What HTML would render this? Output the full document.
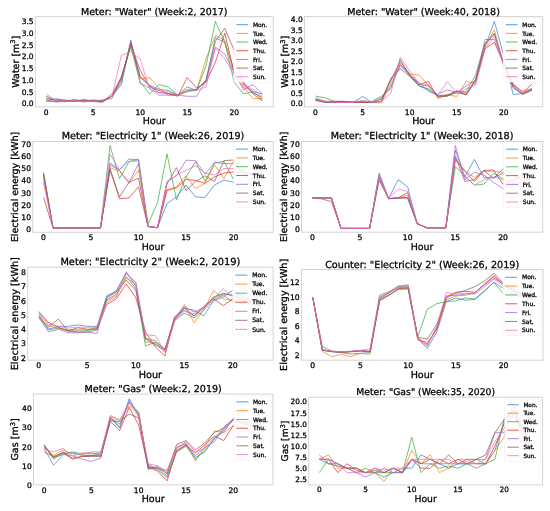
<!DOCTYPE html>
<html lang="en"><head><meta charset="utf-8"><title>Weekly load profiles</title>
<style>
html,body{margin:0;padding:0;background:#fff}
svg{display:block}
text{font-family:"DejaVu Sans","Liberation Sans",sans-serif;fill:#000;stroke:#000;stroke-width:0.28px;paint-order:stroke;text-rendering:geometricPrecision}
.t{font-size:9.52px;text-anchor:middle}
.l{font-size:9.5px;text-anchor:middle}
.k{font-size:7.55px}
.g{font-size:5.9px}
.ax{fill:none;stroke:#d4d4d4;stroke-width:1}
.ln{fill:none;stroke-width:0.72;stroke-linejoin:round;stroke-linecap:butt}
</style></head>
<body>
<svg width="550" height="511" viewBox="0 0 550 511">
<rect width="550" height="511" fill="#fff"/>
<g id="p0">
<clipPath id="c0"><rect x="35.4" y="16.6" width="237.8" height="90.2"/></clipPath>
<g clip-path="url(#c0)">
<polyline class="ln" stroke="#2a84d2" points="46.2,100.96 55.6,98.62 65,100.49 74.4,101.43 83.8,99.79 93.2,101.43 102.6,100.96 112,96.28 121.4,84.58 130.8,41.29 140.2,77.56 149.6,85.28 159,89.26 168.4,90.43 177.8,95.11 187.2,86.92 196.6,90.43 206,79.9 215.4,37.78 224.8,42.46 234.2,70.54 243.6,82.24 253,91.6 262.4,93.94"/>
<polyline class="ln" stroke="#ff7f0e" points="46.2,96.28 55.6,100.96 65,100.96 74.4,99.79 83.8,101.43 93.2,99.56 102.6,101.43 112,96.28 121.4,79.9 130.8,44.8 140.2,78.73 149.6,77.56 159,88.09 168.4,95.11 177.8,95.11 187.2,89.26 196.6,90.43 206,58.84 215.4,35.44 224.8,40.12 234.2,74.05 243.6,86.92 253,98.62 262.4,98.62"/>
<polyline class="ln" stroke="#30b03c" points="46.2,96.28 55.6,100.49 65,101.9 74.4,99.56 83.8,100.96 93.2,101.43 102.6,99.79 112,98.62 121.4,76.39 130.8,47.14 140.2,82.24 149.6,93.94 159,84.58 168.4,86.92 177.8,95.11 187.2,90.43 196.6,90.43 206,65.86 215.4,21.4 224.8,42.46 234.2,82.24 243.6,93.94 253,91.6 262.4,99.79"/>
<polyline class="ln" stroke="#e42c2c" points="46.2,98.62 55.6,99.79 65,100.02 74.4,101.43 83.8,100.49 93.2,100.96 102.6,101.43 112,93.94 121.4,77.56 130.8,43.63 140.2,70.54 149.6,86.92 159,90.43 168.4,93.47 177.8,96.28 187.2,77.56 196.6,88.09 206,82.24 215.4,62.12 224.8,33.1 234.2,72.88 243.6,83.41 253,93.94 262.4,100.96"/>
<polyline class="ln" stroke="#9c66d4" points="46.2,99.79 55.6,101.43 65,100.96 74.4,101.43 83.8,99.56 93.2,100.96 102.6,100.96 112,96.28 121.4,82.24 130.8,40.12 140.2,83.41 149.6,88.09 159,95.11 168.4,95.11 177.8,95.11 187.2,96.28 196.6,96.28 206,81.07 215.4,47.14 224.8,54.16 234.2,72.88 243.6,89.96 253,84.58 262.4,93.94"/>
<polyline class="ln" stroke="#94584c" points="46.2,100.96 55.6,101.9 65,101.43 74.4,100.96 83.8,101.9 93.2,100.96 102.6,101.43 112,96.28 121.4,78.73 130.8,43.63 140.2,76.39 149.6,85.75 159,92.77 168.4,93.47 177.8,95.11 187.2,91.6 196.6,89.26 206,81.07 215.4,41.29 224.8,28.42 234.2,50.65 243.6,85.28 253,92.77 262.4,97.45"/>
<polyline class="ln" stroke="#f06ccb" points="46.2,93.94 55.6,100.49 65,101.43 74.4,100.96 83.8,101.43 93.2,101.43 102.6,102.6 112,96.28 121.4,55.33 130.8,51.82 140.2,58.84 149.6,89.26 159,92.77 168.4,91.6 177.8,95.11 187.2,91.6 196.6,90.43 206,86.92 215.4,48.31 224.8,58.84 234.2,75.22 243.6,88.09 253,89.26 262.4,96.28"/>
</g>
<rect x="233.6" y="17.6" width="37.2" height="64.6" rx="1" fill="#fff" fill-opacity="0.86" stroke="#ccc" stroke-opacity="0.5" stroke-width="0.4"/>
<line x1="236.4" y1="24.7" x2="248.2" y2="24.7" stroke="#2a84d2" stroke-width="0.8"/><text class="g" style="font-size:5.9px" x="252.92" y="26.82">Mon.</text>
<line x1="236.4" y1="33.38" x2="248.2" y2="33.38" stroke="#ff7f0e" stroke-width="0.8"/><text class="g" style="font-size:5.9px" x="252.92" y="35.5">Tue.</text>
<line x1="236.4" y1="42.06" x2="248.2" y2="42.06" stroke="#30b03c" stroke-width="0.8"/><text class="g" style="font-size:5.9px" x="252.92" y="44.18">Wed.</text>
<line x1="236.4" y1="50.74" x2="248.2" y2="50.74" stroke="#e42c2c" stroke-width="0.8"/><text class="g" style="font-size:5.9px" x="252.92" y="52.86">Thu.</text>
<line x1="236.4" y1="59.42" x2="248.2" y2="59.42" stroke="#9c66d4" stroke-width="0.8"/><text class="g" style="font-size:5.9px" x="252.92" y="61.54">Fri.</text>
<line x1="236.4" y1="68.1" x2="248.2" y2="68.1" stroke="#94584c" stroke-width="0.8"/><text class="g" style="font-size:5.9px" x="252.92" y="70.22">Sat.</text>
<line x1="236.4" y1="76.78" x2="248.2" y2="76.78" stroke="#f06ccb" stroke-width="0.8"/><text class="g" style="font-size:5.9px" x="252.92" y="78.9">Sun.</text>
<rect class="ax" x="35.4" y="16.6" width="237.8" height="90.2"/>
<text class="k" style="font-size:7.55px" text-anchor="end" x="33.65" y="106.21">0.0</text>
<text class="k" style="font-size:7.55px" text-anchor="end" x="33.65" y="94.51">0.5</text>
<text class="k" style="font-size:7.55px" text-anchor="end" x="33.65" y="82.81">1.0</text>
<text class="k" style="font-size:7.55px" text-anchor="end" x="33.65" y="71.11">1.5</text>
<text class="k" style="font-size:7.55px" text-anchor="end" x="33.65" y="59.41">2.0</text>
<text class="k" style="font-size:7.55px" text-anchor="end" x="33.65" y="47.71">2.5</text>
<text class="k" style="font-size:7.55px" text-anchor="end" x="33.65" y="36.01">3.0</text>
<text class="k" style="font-size:7.55px" text-anchor="end" x="33.65" y="24.31">3.5</text>
<text class="k" style="font-size:7.55px" text-anchor="middle" x="46.2" y="114.5">0</text>
<text class="k" style="font-size:7.55px" text-anchor="middle" x="93.2" y="114.5">5</text>
<text class="k" style="font-size:7.55px" text-anchor="middle" x="140.2" y="114.5">10</text>
<text class="k" style="font-size:7.55px" text-anchor="middle" x="187.2" y="114.5">15</text>
<text class="k" style="font-size:7.55px" text-anchor="middle" x="234.2" y="114.5">20</text>
<text class="l" style="font-size:9.5px" x="154.3" y="124">Hour</text>
<text class="l" style="font-size:9.5px" transform="translate(18.5,61.7) rotate(-90)">Water [m<tspan dy="-3.40" style="font-size:6.65px">3</tspan><tspan dy="3.40">]</tspan></text>
<text class="t" style="font-size:9.52px" x="154.3" y="14.8">Meter: &quot;Water&quot; (Week:2, 2017)</text>
</g>
<g id="p1">
<clipPath id="c1"><rect x="304.5" y="16.6" width="238.2" height="90.2"/></clipPath>
<g clip-path="url(#c1)">
<polyline class="ln" stroke="#2a84d2" points="315.5,100.55 324.92,102.45 334.33,102.45 343.75,101.39 353.16,102.45 362.57,96.55 371.99,102.45 381.4,97.82 390.82,86.66 400.24,65.61 409.65,75.08 419.06,86.03 428.48,89.82 437.89,96.13 447.31,95.08 456.73,92.97 466.14,94.24 475.55,82.45 484.97,46.66 494.38,21.41 503.8,55.72 513.21,94.66 522.63,93.4 532.04,89.82"/>
<polyline class="ln" stroke="#ff7f0e" points="315.5,99.29 324.92,101.39 334.33,101.39 343.75,102.45 353.16,102.45 362.57,102.45 371.99,102.45 381.4,102.87 390.82,83.5 400.24,64.56 409.65,74.03 419.06,75.08 428.48,85.19 437.89,96.13 447.31,94.66 456.73,96.55 466.14,81.4 475.55,83.29 484.97,47.51 494.38,29.83 503.8,64.56 513.21,85.4 522.63,90.87 532.04,88.77"/>
<polyline class="ln" stroke="#30b03c" points="315.5,96.13 324.92,97.82 334.33,101.39 343.75,101.39 353.16,102.45 362.57,101.39 371.99,101.39 381.4,96.13 390.82,88.77 400.24,59.29 409.65,76.13 419.06,86.03 428.48,88.77 437.89,96.13 447.31,96.13 456.73,91.5 466.14,91.5 475.55,75.08 484.97,43.09 494.38,33.19 503.8,65.61 513.21,86.24 522.63,93.82 532.04,89.82"/>
<polyline class="ln" stroke="#e42c2c" points="315.5,99.71 324.92,101.39 334.33,101.39 343.75,101.39 353.16,102.45 362.57,102.45 371.99,102.45 381.4,99.29 390.82,80.34 400.24,61.4 409.65,74.03 419.06,84.56 428.48,81.4 437.89,98.24 447.31,95.08 456.73,90.87 466.14,95.08 475.55,79.71 484.97,48.77 494.38,42.45 503.8,63.51 513.21,84.56 522.63,92.55 532.04,84.13"/>
<polyline class="ln" stroke="#9c66d4" points="315.5,97.82 324.92,101.39 334.33,102.45 343.75,102.45 353.16,101.39 362.57,101.39 371.99,102.45 381.4,101.39 390.82,80.34 400.24,63.51 409.65,75.08 419.06,82.45 428.48,91.5 437.89,94.24 447.31,89.82 456.73,92.55 466.14,86.03 475.55,80.56 484.97,39.51 494.38,39.51 503.8,64.56 513.21,88.13 522.63,93.4 532.04,88.77"/>
<polyline class="ln" stroke="#94584c" points="315.5,99.71 324.92,102.45 334.33,102.45 343.75,102.45 353.16,102.45 362.57,102.45 371.99,102.45 381.4,101.39 390.82,78.24 400.24,68.77 409.65,76.13 419.06,84.56 428.48,86.03 437.89,96.13 447.31,96.13 456.73,90.87 466.14,93.4 475.55,79.71 484.97,44.56 494.38,34.03 503.8,64.56 513.21,87.08 522.63,94.66 532.04,90.24"/>
<polyline class="ln" stroke="#f06ccb" points="315.5,98.87 324.92,101.39 334.33,102.45 343.75,102.45 353.16,102.45 362.57,100.34 371.99,102.45 381.4,101.39 390.82,92.97 400.24,57.19 409.65,70.87 419.06,83.5 428.48,84.56 437.89,95.08 447.31,81.82 456.73,92.97 466.14,88.77 475.55,85.19 484.97,49.4 494.38,36.14 503.8,63.51 513.21,83.5 522.63,92.55 532.04,88.13"/>
</g>
<rect x="503" y="17.6" width="37.2" height="64.6" rx="1" fill="#fff" fill-opacity="0.86" stroke="#ccc" stroke-opacity="0.5" stroke-width="0.4"/>
<line x1="505.8" y1="24.7" x2="517.6" y2="24.7" stroke="#2a84d2" stroke-width="0.8"/><text class="g" style="font-size:5.9px" x="522.32" y="26.82">Mon.</text>
<line x1="505.8" y1="33.38" x2="517.6" y2="33.38" stroke="#ff7f0e" stroke-width="0.8"/><text class="g" style="font-size:5.9px" x="522.32" y="35.5">Tue.</text>
<line x1="505.8" y1="42.06" x2="517.6" y2="42.06" stroke="#30b03c" stroke-width="0.8"/><text class="g" style="font-size:5.9px" x="522.32" y="44.18">Wed.</text>
<line x1="505.8" y1="50.74" x2="517.6" y2="50.74" stroke="#e42c2c" stroke-width="0.8"/><text class="g" style="font-size:5.9px" x="522.32" y="52.86">Thu.</text>
<line x1="505.8" y1="59.42" x2="517.6" y2="59.42" stroke="#9c66d4" stroke-width="0.8"/><text class="g" style="font-size:5.9px" x="522.32" y="61.54">Fri.</text>
<line x1="505.8" y1="68.1" x2="517.6" y2="68.1" stroke="#94584c" stroke-width="0.8"/><text class="g" style="font-size:5.9px" x="522.32" y="70.22">Sat.</text>
<line x1="505.8" y1="76.78" x2="517.6" y2="76.78" stroke="#f06ccb" stroke-width="0.8"/><text class="g" style="font-size:5.9px" x="522.32" y="78.9">Sun.</text>
<rect class="ax" x="304.5" y="16.6" width="238.2" height="90.2"/>
<text class="k" style="font-size:7.55px" text-anchor="end" x="302.75" y="106.41">0.0</text>
<text class="k" style="font-size:7.55px" text-anchor="end" x="302.75" y="95.88">0.5</text>
<text class="k" style="font-size:7.55px" text-anchor="end" x="302.75" y="85.36">1.0</text>
<text class="k" style="font-size:7.55px" text-anchor="end" x="302.75" y="74.83">1.5</text>
<text class="k" style="font-size:7.55px" text-anchor="end" x="302.75" y="64.31">2.0</text>
<text class="k" style="font-size:7.55px" text-anchor="end" x="302.75" y="53.78">2.5</text>
<text class="k" style="font-size:7.55px" text-anchor="end" x="302.75" y="43.26">3.0</text>
<text class="k" style="font-size:7.55px" text-anchor="end" x="302.75" y="32.73">3.5</text>
<text class="k" style="font-size:7.55px" text-anchor="end" x="302.75" y="22.21">4.0</text>
<text class="k" style="font-size:7.55px" text-anchor="middle" x="315.5" y="114.5">0</text>
<text class="k" style="font-size:7.55px" text-anchor="middle" x="362.57" y="114.5">5</text>
<text class="k" style="font-size:7.55px" text-anchor="middle" x="409.65" y="114.5">10</text>
<text class="k" style="font-size:7.55px" text-anchor="middle" x="456.73" y="114.5">15</text>
<text class="k" style="font-size:7.55px" text-anchor="middle" x="503.8" y="114.5">20</text>
<text class="l" style="font-size:9.5px" x="423.6" y="124">Hour</text>
<text class="l" style="font-size:9.5px" transform="translate(288.1,61.7) rotate(-90)">Water [m<tspan dy="-3.40" style="font-size:6.65px">3</tspan><tspan dy="3.40">]</tspan></text>
<text class="t" style="font-size:9.52px" x="423.6" y="14.8">Meter: &quot;Water&quot; (Week:40, 2018)</text>
</g>
<g id="p2">
<clipPath id="c2"><rect x="32.8" y="141.5" width="240.4" height="90.8"/></clipPath>
<g clip-path="url(#c2)">
<polyline class="ln" stroke="#2a84d2" points="43.5,173.31 53,227.93 62.5,227.93 72,227.93 81.5,227.93 91,227.93 100.5,227.93 110,163.03 119.5,169.68 129,158.92 138.5,160.01 148,226.48 157.5,227.69 167,203.52 176.5,196.99 186,185.03 195.5,196.99 205,197.48 214.5,185.03 224,180.07 233.5,182.25 243,190.23 252.5,178.14 262,180.56"/>
<polyline class="ln" stroke="#ff7f0e" points="43.5,172.1 53,227.93 62.5,227.93 72,227.93 81.5,227.93 91,227.93 100.5,227.93 110,167.63 119.5,171.25 129,183.22 138.5,170.28 148,226.48 157.5,227.69 167,189.62 176.5,186.84 186,175.84 195.5,188.78 205,183.22 214.5,164.85 224,178.62 233.5,161.22 243,174.51 252.5,180.56 262,178.14"/>
<polyline class="ln" stroke="#30b03c" points="43.5,174.51 53,227.93 62.5,227.93 72,227.93 81.5,227.93 91,227.93 100.5,227.93 110,145.51 119.5,178.62 129,161.7 138.5,159.29 148,224.07 157.5,202.55 167,153.97 176.5,199.89 186,176.93 195.5,161.7 205,181.4 214.5,163.03 224,161.22 233.5,179.59 243,168.47 252.5,186.6 262,174.51"/>
<polyline class="ln" stroke="#e42c2c" points="43.5,197.48 53,227.93 62.5,227.93 72,227.93 81.5,227.93 91,227.93 100.5,227.93 110,169.68 119.5,198.69 129,197.96 138.5,186.84 148,226.48 157.5,227.69 167,190.59 176.5,187.81 186,179.47 195.5,180.56 205,183.22 214.5,176.93 224,173.06 233.5,172.1 243,172.1 252.5,174.51 262,175.72"/>
<polyline class="ln" stroke="#9c66d4" points="43.5,178.14 53,227.93 62.5,227.93 72,227.93 81.5,227.93 91,227.93 100.5,227.93 110,164.85 119.5,170.28 129,182.25 138.5,163.88 148,226.48 157.5,227.69 167,181.4 176.5,175.84 186,160.25 195.5,160.62 205,174.03 214.5,162.43 224,163.64 233.5,163.64 243,170.89 252.5,174.51 262,172.1"/>
<polyline class="ln" stroke="#94584c" points="43.5,173.31 53,227.93 62.5,227.93 72,227.93 81.5,227.93 91,227.93 100.5,227.93 110,168.47 119.5,196.99 129,182.25 138.5,178.14 148,226.48 157.5,227.69 167,184.18 176.5,167.63 186,190.59 195.5,181.4 205,175.84 214.5,181.4 224,160.62 233.5,160.01 243,174.51 252.5,168.47 262,170.89"/>
<polyline class="ln" stroke="#f06ccb" points="43.5,182.97 53,227.93 62.5,227.93 72,227.93 81.5,227.93 91,227.93 100.5,227.93 110,153.97 119.5,169.68 129,161.22 138.5,161.22 148,226.48 157.5,227.69 167,182.25 176.5,175 186,170.28 195.5,165.69 205,173.06 214.5,175 224,168.47 233.5,168.47 243,170.89 252.5,174.51 262,176.93"/>
</g>
<rect x="233.3" y="142" width="37.4" height="65.2" rx="1" fill="#fff" fill-opacity="0.86" stroke="#ccc" stroke-opacity="0.5" stroke-width="0.4"/>
<line x1="236.1" y1="149.1" x2="248.02" y2="149.1" stroke="#2a84d2" stroke-width="0.8"/><text class="g" style="font-size:5.96px" x="252.79" y="151.25">Mon.</text>
<line x1="236.1" y1="157.9" x2="248.02" y2="157.9" stroke="#ff7f0e" stroke-width="0.8"/><text class="g" style="font-size:5.96px" x="252.79" y="160.05">Tue.</text>
<line x1="236.1" y1="166.7" x2="248.02" y2="166.7" stroke="#30b03c" stroke-width="0.8"/><text class="g" style="font-size:5.96px" x="252.79" y="168.85">Wed.</text>
<line x1="236.1" y1="175.5" x2="248.02" y2="175.5" stroke="#e42c2c" stroke-width="0.8"/><text class="g" style="font-size:5.96px" x="252.79" y="177.65">Thu.</text>
<line x1="236.1" y1="184.3" x2="248.02" y2="184.3" stroke="#9c66d4" stroke-width="0.8"/><text class="g" style="font-size:5.96px" x="252.79" y="186.45">Fri.</text>
<line x1="236.1" y1="193.1" x2="248.02" y2="193.1" stroke="#94584c" stroke-width="0.8"/><text class="g" style="font-size:5.96px" x="252.79" y="195.25">Sat.</text>
<line x1="236.1" y1="201.9" x2="248.02" y2="201.9" stroke="#f06ccb" stroke-width="0.8"/><text class="g" style="font-size:5.96px" x="252.79" y="204.05">Sun.</text>
<rect class="ax" x="32.8" y="141.5" width="240.4" height="90.8"/>
<text class="k" style="font-size:7.63px" text-anchor="end" x="31.05" y="231.83">0</text>
<text class="k" style="font-size:7.63px" text-anchor="end" x="31.05" y="219.75">10</text>
<text class="k" style="font-size:7.63px" text-anchor="end" x="31.05" y="207.66">20</text>
<text class="k" style="font-size:7.63px" text-anchor="end" x="31.05" y="195.58">30</text>
<text class="k" style="font-size:7.63px" text-anchor="end" x="31.05" y="183.49">40</text>
<text class="k" style="font-size:7.63px" text-anchor="end" x="31.05" y="171.4">50</text>
<text class="k" style="font-size:7.63px" text-anchor="end" x="31.05" y="159.32">60</text>
<text class="k" style="font-size:7.63px" text-anchor="end" x="31.05" y="147.23">70</text>
<text class="k" style="font-size:7.63px" text-anchor="middle" x="43.5" y="240.08">0</text>
<text class="k" style="font-size:7.63px" text-anchor="middle" x="91" y="240.08">5</text>
<text class="k" style="font-size:7.63px" text-anchor="middle" x="138.5" y="240.08">10</text>
<text class="k" style="font-size:7.63px" text-anchor="middle" x="186" y="240.08">15</text>
<text class="k" style="font-size:7.63px" text-anchor="middle" x="233.5" y="240.08">20</text>
<text class="l" style="font-size:9.45px" x="153" y="249.67">Hour</text>
<text class="l" style="font-size:9.45px" transform="translate(17.9,186.9) rotate(-90)">Electrical energy [kWh]</text>
<text class="t" style="font-size:9.62px" x="153" y="138.9">Meter: &quot;Electricity 1&quot; (Week:26, 2019)</text>
</g>
<g id="p3">
<clipPath id="c3"><rect x="301.5" y="141.5" width="241.2" height="90.7"/></clipPath>
<g clip-path="url(#c3)">
<polyline class="ln" stroke="#2a84d2" points="312.4,197.95 321.93,197.95 331.46,197.95 340.99,228.39 350.52,228.39 360.05,228.39 369.58,228.39 379.11,173.21 388.64,198.68 398.17,179.64 407.7,186.91 417.23,223.66 426.76,227.79 436.29,227.79 445.82,227.79 455.35,150.16 464.88,176.85 474.41,159.38 483.94,177.7 493.47,177.7 503,173.21 512.53,180.49 522.06,190.19 531.59,198.68"/>
<polyline class="ln" stroke="#ff7f0e" points="312.4,197.95 321.93,197.95 331.46,197.95 340.99,228.39 350.52,228.39 360.05,228.39 369.58,228.39 379.11,176.85 388.64,198.68 398.17,197.95 407.7,195.16 417.23,223.66 426.76,227.79 436.29,227.79 445.82,227.79 455.35,160.23 464.88,170.42 474.41,177.7 483.94,171.27 493.47,171.27 503,172.24 512.53,174.42 522.06,178.06 531.59,180.49"/>
<polyline class="ln" stroke="#30b03c" points="312.4,197.95 321.93,197.95 331.46,197.95 340.99,228.39 350.52,228.39 360.05,228.39 369.58,228.39 379.11,176.85 388.64,198.68 398.17,197.95 407.7,197.47 417.23,223.66 426.76,227.79 436.29,227.79 445.82,227.79 455.35,166.66 464.88,175.88 474.41,185.09 483.94,184.12 493.47,173.21 503,178.67 512.53,182.91 522.06,174.42 531.59,178.06"/>
<polyline class="ln" stroke="#e42c2c" points="312.4,197.95 321.93,197.95 331.46,197.95 340.99,228.39 350.52,228.39 360.05,228.39 369.58,228.39 379.11,178.06 388.64,198.68 398.17,197.95 407.7,192.61 417.23,223.66 426.76,227.79 436.29,227.79 445.82,227.79 455.35,158.65 464.88,171.27 474.41,181.46 483.94,170.42 493.47,170.06 503,184.12 512.53,180.49 522.06,175.63 531.59,178.06"/>
<polyline class="ln" stroke="#9c66d4" points="312.4,197.95 321.93,197.95 331.46,197.95 340.99,228.39 350.52,228.39 360.05,228.39 369.58,228.39 379.11,174.42 388.64,198.68 398.17,197.95 407.7,197.95 417.23,223.66 426.76,227.79 436.29,227.79 445.82,227.79 455.35,145.56 464.88,179.52 474.41,172.24 483.94,175.03 493.47,182.31 503,188.73 512.53,185.34 522.06,182.91 531.59,186.55"/>
<polyline class="ln" stroke="#94584c" points="312.4,197.95 321.93,198.92 331.46,201.59 340.99,228.39 350.52,228.39 360.05,228.39 369.58,228.39 379.11,180.49 388.64,198.68 398.17,197.95 407.7,197.95 417.23,223.66 426.76,227.79 436.29,227.79 445.82,227.79 455.35,156.59 464.88,181.46 474.41,179.52 483.94,170.42 493.47,178.67 503,168.6 512.53,174.42 522.06,180.49 531.59,182.91"/>
<polyline class="ln" stroke="#f06ccb" points="312.4,197.95 321.93,197.95 331.46,197.95 340.99,228.39 350.52,228.39 360.05,228.39 369.58,228.39 379.11,176.85 388.64,198.68 398.17,188.98 407.7,191.4 417.23,223.66 426.76,227.79 436.29,227.79 445.82,227.79 455.35,155.62 464.88,176.85 474.41,185.09 483.94,179.52 493.47,176.85 503,179.64 512.53,182.91 522.06,186.55 531.59,180.49"/>
</g>
<rect x="503.3" y="142.1" width="37.4" height="65.2" rx="1" fill="#fff" fill-opacity="0.86" stroke="#ccc" stroke-opacity="0.5" stroke-width="0.4"/>
<line x1="506.1" y1="149.2" x2="518.02" y2="149.2" stroke="#2a84d2" stroke-width="0.8"/><text class="g" style="font-size:5.96px" x="522.79" y="151.35">Mon.</text>
<line x1="506.1" y1="158" x2="518.02" y2="158" stroke="#ff7f0e" stroke-width="0.8"/><text class="g" style="font-size:5.96px" x="522.79" y="160.15">Tue.</text>
<line x1="506.1" y1="166.8" x2="518.02" y2="166.8" stroke="#30b03c" stroke-width="0.8"/><text class="g" style="font-size:5.96px" x="522.79" y="168.95">Wed.</text>
<line x1="506.1" y1="175.6" x2="518.02" y2="175.6" stroke="#e42c2c" stroke-width="0.8"/><text class="g" style="font-size:5.96px" x="522.79" y="177.75">Thu.</text>
<line x1="506.1" y1="184.4" x2="518.02" y2="184.4" stroke="#9c66d4" stroke-width="0.8"/><text class="g" style="font-size:5.96px" x="522.79" y="186.55">Fri.</text>
<line x1="506.1" y1="193.2" x2="518.02" y2="193.2" stroke="#94584c" stroke-width="0.8"/><text class="g" style="font-size:5.96px" x="522.79" y="195.35">Sat.</text>
<line x1="506.1" y1="202" x2="518.02" y2="202" stroke="#f06ccb" stroke-width="0.8"/><text class="g" style="font-size:5.96px" x="522.79" y="204.15">Sun.</text>
<rect class="ax" x="301.5" y="141.5" width="241.2" height="90.7"/>
<text class="k" style="font-size:7.63px" text-anchor="end" x="299.75" y="231.93">0</text>
<text class="k" style="font-size:7.63px" text-anchor="end" x="299.75" y="219.8">10</text>
<text class="k" style="font-size:7.63px" text-anchor="end" x="299.75" y="207.68">20</text>
<text class="k" style="font-size:7.63px" text-anchor="end" x="299.75" y="195.55">30</text>
<text class="k" style="font-size:7.63px" text-anchor="end" x="299.75" y="183.42">40</text>
<text class="k" style="font-size:7.63px" text-anchor="end" x="299.75" y="171.29">50</text>
<text class="k" style="font-size:7.63px" text-anchor="end" x="299.75" y="159.16">60</text>
<text class="k" style="font-size:7.63px" text-anchor="end" x="299.75" y="147.03">70</text>
<text class="k" style="font-size:7.63px" text-anchor="middle" x="312.4" y="239.98">0</text>
<text class="k" style="font-size:7.63px" text-anchor="middle" x="360.05" y="239.98">5</text>
<text class="k" style="font-size:7.63px" text-anchor="middle" x="407.7" y="239.98">10</text>
<text class="k" style="font-size:7.63px" text-anchor="middle" x="455.35" y="239.98">15</text>
<text class="k" style="font-size:7.63px" text-anchor="middle" x="503" y="239.98">20</text>
<text class="l" style="font-size:9.45px" x="422.1" y="249.57">Hour</text>
<text class="l" style="font-size:9.45px" transform="translate(287,186.85) rotate(-90)">Electrical energy [kWh]</text>
<text class="t" style="font-size:9.62px" x="422.1" y="139">Meter: &quot;Electricity 1&quot; (Week:30, 2018)</text>
</g>
<g id="p4">
<clipPath id="c4"><rect x="27.7" y="267.2" width="245.4" height="93"/></clipPath>
<g clip-path="url(#c4)">
<polyline class="ln" stroke="#2a84d2" points="38.85,316.8 48.55,329.2 58.25,326.35 67.95,326.35 77.65,324.93 87.35,326.35 97.05,326.35 106.75,295.71 116.45,291.44 126.15,273.62 135.85,282.18 145.55,338.46 155.25,344.16 164.95,349.72 174.65,319.22 184.35,308.39 194.05,310.25 203.75,315.81 213.45,300.7 223.15,297 232.85,290.01 242.55,296.43 252.25,300.7 261.95,304.97"/>
<polyline class="ln" stroke="#ff7f0e" points="38.85,313.1 48.55,325.78 58.25,328.06 67.95,329.91 77.65,329.63 87.35,329.91 97.05,327.2 106.75,300.7 116.45,295.71 126.15,278.19 135.85,283.88 145.55,342.17 155.25,343.16 164.95,352.57 174.65,320.65 184.35,304.55 194.05,322.79 203.75,310.25 213.45,290.44 223.15,298.85 232.85,300.7 242.55,303.55 252.25,299.27 261.95,306.4"/>
<polyline class="ln" stroke="#30b03c" points="38.85,314.52 48.55,329.91 58.25,328.06 67.95,330.91 77.65,330.91 87.35,330.62 97.05,328.06 106.75,299.85 116.45,294.14 126.15,276.47 135.85,288.59 145.55,346.01 155.25,342.17 164.95,348.87 174.65,320.65 184.35,313.1 194.05,317.8 203.75,310.25 213.45,299.85 223.15,295.14 232.85,301.7 242.55,297.85 252.25,302.12 261.95,307.82"/>
<polyline class="ln" stroke="#e42c2c" points="38.85,311.67 48.55,322.5 58.25,327.2 67.95,330.91 77.65,327.77 87.35,329.2 97.05,329.2 106.75,304.55 116.45,298.85 126.15,283.88 135.85,297.85 145.55,332.05 155.25,346.87 164.95,355.99 174.65,317.8 184.35,310.25 194.05,315.81 203.75,306.4 213.45,298.85 223.15,305.54 232.85,298.85 242.55,300.7 252.25,304.97 261.95,310.68"/>
<polyline class="ln" stroke="#9c66d4" points="38.85,317.8 48.55,331.91 58.25,329.2 67.95,332.76 77.65,332.76 87.35,332.05 97.05,333.47 106.75,297 116.45,290.44 126.15,272.2 135.85,286.45 145.55,339.18 155.25,344.88 164.95,350.57 174.65,319.22 184.35,306.4 194.05,312.1 203.75,307.4 213.45,297.99 223.15,294.14 232.85,295 242.55,296.43 252.25,300.7 261.95,303.55"/>
<polyline class="ln" stroke="#94584c" points="38.85,316.8 48.55,327.2 58.25,319.08 67.95,330.91 77.65,332.05 87.35,332.05 97.05,329.91 106.75,297.85 116.45,292.15 126.15,280.04 135.85,290.44 145.55,338.46 155.25,340.6 164.95,349.72 174.65,316.8 184.35,307.82 194.05,315.81 203.75,308.39 213.45,297 223.15,293.29 232.85,295.71 242.55,299.27 252.25,303.55 261.95,306.4"/>
<polyline class="ln" stroke="#f06ccb" points="38.85,311.67 48.55,324.36 58.25,326.35 67.95,328.06 77.65,327.2 87.35,327.2 97.05,327.2 106.75,302.69 116.45,297 126.15,271.63 135.85,285.02 145.55,334.9 155.25,335.61 164.95,351.57 174.65,320.65 184.35,311.1 194.05,313.95 203.75,308.39 213.45,298.85 223.15,288.59 232.85,297 242.55,295 252.25,299.27 261.95,302.12"/>
</g>
<rect x="232.4" y="269.9" width="38.2" height="64.8" rx="1" fill="#fff" fill-opacity="0.86" stroke="#ccc" stroke-opacity="0.5" stroke-width="0.4"/>
<line x1="235.2" y1="275.1" x2="247.35" y2="275.1" stroke="#2a84d2" stroke-width="0.8"/><text class="g" style="font-size:6.08px" x="252.22" y="277.29">Mon.</text>
<line x1="235.2" y1="284.14" x2="247.35" y2="284.14" stroke="#ff7f0e" stroke-width="0.8"/><text class="g" style="font-size:6.08px" x="252.22" y="286.33">Tue.</text>
<line x1="235.2" y1="293.18" x2="247.35" y2="293.18" stroke="#30b03c" stroke-width="0.8"/><text class="g" style="font-size:6.08px" x="252.22" y="295.37">Wed.</text>
<line x1="235.2" y1="302.22" x2="247.35" y2="302.22" stroke="#e42c2c" stroke-width="0.8"/><text class="g" style="font-size:6.08px" x="252.22" y="304.41">Thu.</text>
<line x1="235.2" y1="311.26" x2="247.35" y2="311.26" stroke="#9c66d4" stroke-width="0.8"/><text class="g" style="font-size:6.08px" x="252.22" y="313.45">Fri.</text>
<line x1="235.2" y1="320.3" x2="247.35" y2="320.3" stroke="#94584c" stroke-width="0.8"/><text class="g" style="font-size:6.08px" x="252.22" y="322.49">Sat.</text>
<line x1="235.2" y1="329.34" x2="247.35" y2="329.34" stroke="#f06ccb" stroke-width="0.8"/><text class="g" style="font-size:6.08px" x="252.22" y="331.53">Sun.</text>
<rect class="ax" x="27.7" y="267.2" width="245.4" height="93"/>
<text class="k" style="font-size:7.78px" text-anchor="end" x="25.95" y="360.69">2</text>
<text class="k" style="font-size:7.78px" text-anchor="end" x="25.95" y="346.44">3</text>
<text class="k" style="font-size:7.78px" text-anchor="end" x="25.95" y="332.19">4</text>
<text class="k" style="font-size:7.78px" text-anchor="end" x="25.95" y="317.94">5</text>
<text class="k" style="font-size:7.78px" text-anchor="end" x="25.95" y="303.69">6</text>
<text class="k" style="font-size:7.78px" text-anchor="end" x="25.95" y="289.44">7</text>
<text class="k" style="font-size:7.78px" text-anchor="end" x="25.95" y="275.19">8</text>
<text class="k" style="font-size:7.78px" text-anchor="middle" x="38.85" y="368.13">0</text>
<text class="k" style="font-size:7.78px" text-anchor="middle" x="87.35" y="368.13">5</text>
<text class="k" style="font-size:7.78px" text-anchor="middle" x="135.85" y="368.13">10</text>
<text class="k" style="font-size:7.78px" text-anchor="middle" x="184.35" y="368.13">15</text>
<text class="k" style="font-size:7.78px" text-anchor="middle" x="232.85" y="368.13">20</text>
<text class="l" style="font-size:9.68px" x="150.4" y="377.92">Hour</text>
<text class="l" style="font-size:9.68px" transform="translate(17.9,313.7) rotate(-90)">Electrical energy [kWh]</text>
<text class="t" style="font-size:9.81px" x="150.4" y="264.8">Meter: &quot;Electricity 2&quot; (Week:2, 2019)</text>
</g>
<g id="p5">
<clipPath id="c5"><rect x="301.4" y="269.5" width="241.6" height="90.7"/></clipPath>
<g clip-path="url(#c5)">
<polyline class="ln" stroke="#2a84d2" points="312.8,297.57 322.34,350.35 331.88,351.8 341.42,352.52 350.96,353.97 360.5,353.39 370.04,352.52 379.58,300.32 389.12,294.89 398.66,289.45 408.2,288.94 417.74,338.75 427.28,348.32 436.82,331.79 446.36,301.41 455.9,297.93 465.44,300.18 474.98,299.45 484.52,291.33 494.06,282.2 503.6,288.73 513.14,293.07 522.68,296.7 532.22,300.32"/>
<polyline class="ln" stroke="#ff7f0e" points="312.8,297.57 322.34,351.51 331.88,356.58 341.42,354.34 350.96,356.58 360.5,353.39 370.04,354.34 379.58,299.82 389.12,294.52 398.66,288.73 408.2,288.73 417.74,340.2 427.28,342.08 436.82,329.9 446.36,299.82 455.9,295.97 465.44,295.25 474.98,293.07 484.52,283.87 494.06,274.95 503.6,285.1 513.14,290.17 522.68,295.25 532.22,298.15"/>
<polyline class="ln" stroke="#30b03c" points="312.8,297.57 322.34,346.44 331.88,351.07 341.42,351.8 350.96,351.51 360.5,351.07 370.04,351.51 379.58,295.25 389.12,291.62 398.66,285.82 408.2,287.27 417.74,337.01 427.28,309.24 436.82,303.59 446.36,301.77 455.9,300.76 465.44,297.93 474.98,298.88 484.52,290.39 494.06,282.49 503.6,294.16 513.14,294.52 522.68,297.43 532.22,300.32"/>
<polyline class="ln" stroke="#e42c2c" points="312.8,297.57 322.34,349.62 331.88,351.51 341.42,351.8 350.96,351.51 360.5,350.57 370.04,351.51 379.58,297.93 389.12,292.35 398.66,287.64 408.2,286.91 417.74,338.02 427.28,343.97 436.82,328.96 446.36,296.7 455.9,292.35 465.44,291.33 474.98,292.35 484.52,284.38 494.06,276.4 503.6,285.1 513.14,290.9 522.68,295.97 532.22,299.6"/>
<polyline class="ln" stroke="#9c66d4" points="312.8,297.57 322.34,349.99 331.88,351.51 341.42,352.16 350.96,351.51 360.5,350.57 370.04,351.51 379.58,298.88 389.12,293.07 398.66,286.19 408.2,284.81 417.74,338.75 427.28,346 436.82,327.15 446.36,295.97 455.9,295.25 465.44,294.16 474.98,292.71 484.52,284.81 494.06,278.21 503.6,284.01 513.14,289.45 522.68,294.52 532.22,298.88"/>
<polyline class="ln" stroke="#94584c" points="312.8,297.57 322.34,350.35 331.88,351.51 341.42,352.52 350.96,351.8 360.5,351.07 370.04,351.51 379.58,300.76 389.12,295.25 398.66,288.73 408.2,288 417.74,337.01 427.28,339.26 436.82,324.25 446.36,297.93 455.9,293.07 465.44,290.39 474.98,286.55 484.52,281.04 494.06,273.14 503.6,283.65 513.14,289.45 522.68,295.25 532.22,298.88"/>
<polyline class="ln" stroke="#f06ccb" points="312.8,297.57 322.34,349.62 331.88,351.07 341.42,351.8 350.96,351.07 360.5,350.35 370.04,348.68 379.58,296.99 389.12,291.99 398.66,286.55 408.2,285.1 417.74,338.02 427.28,344.91 436.82,326.13 446.36,292.35 455.9,294.16 465.44,293.22 474.98,294.16 484.52,286.55 494.06,279.3 503.6,285.82 513.14,291.62 522.68,296.7 532.22,300.32"/>
</g>
<rect x="502.4" y="270.8" width="38.2" height="64.8" rx="1" fill="#fff" fill-opacity="0.86" stroke="#ccc" stroke-opacity="0.5" stroke-width="0.4"/>
<line x1="505.2" y1="277.3" x2="517.18" y2="277.3" stroke="#2a84d2" stroke-width="0.8"/><text class="g" style="font-size:5.99px" x="521.97" y="279.46">Mon.</text>
<line x1="505.2" y1="286.13" x2="517.18" y2="286.13" stroke="#ff7f0e" stroke-width="0.8"/><text class="g" style="font-size:5.99px" x="521.97" y="288.29">Tue.</text>
<line x1="505.2" y1="294.96" x2="517.18" y2="294.96" stroke="#30b03c" stroke-width="0.8"/><text class="g" style="font-size:5.99px" x="521.97" y="297.12">Wed.</text>
<line x1="505.2" y1="303.79" x2="517.18" y2="303.79" stroke="#e42c2c" stroke-width="0.8"/><text class="g" style="font-size:5.99px" x="521.97" y="305.95">Thu.</text>
<line x1="505.2" y1="312.62" x2="517.18" y2="312.62" stroke="#9c66d4" stroke-width="0.8"/><text class="g" style="font-size:5.99px" x="521.97" y="314.78">Fri.</text>
<line x1="505.2" y1="321.45" x2="517.18" y2="321.45" stroke="#94584c" stroke-width="0.8"/><text class="g" style="font-size:5.99px" x="521.97" y="323.61">Sat.</text>
<line x1="505.2" y1="330.28" x2="517.18" y2="330.28" stroke="#f06ccb" stroke-width="0.8"/><text class="g" style="font-size:5.99px" x="521.97" y="332.44">Sun.</text>
<rect class="ax" x="301.4" y="269.5" width="241.6" height="90.7"/>
<text class="k" style="font-size:7.66px" text-anchor="end" x="299.65" y="357.65">2</text>
<text class="k" style="font-size:7.66px" text-anchor="end" x="299.65" y="343.15">4</text>
<text class="k" style="font-size:7.66px" text-anchor="end" x="299.65" y="328.65">6</text>
<text class="k" style="font-size:7.66px" text-anchor="end" x="299.65" y="314.15">8</text>
<text class="k" style="font-size:7.66px" text-anchor="end" x="299.65" y="299.65">10</text>
<text class="k" style="font-size:7.66px" text-anchor="end" x="299.65" y="285.15">12</text>
<text class="k" style="font-size:7.66px" text-anchor="middle" x="312.8" y="368.02">0</text>
<text class="k" style="font-size:7.66px" text-anchor="middle" x="360.5" y="368.02">5</text>
<text class="k" style="font-size:7.66px" text-anchor="middle" x="408.2" y="368.02">10</text>
<text class="k" style="font-size:7.66px" text-anchor="middle" x="455.9" y="368.02">15</text>
<text class="k" style="font-size:7.66px" text-anchor="middle" x="503.6" y="368.02">20</text>
<text class="l" style="font-size:9.58px" x="422.2" y="377.66">Hour</text>
<text class="l" style="font-size:9.58px" transform="translate(287,314.85) rotate(-90)">Electrical energy [kWh]</text>
<text class="t" style="font-size:9.66px" x="422.2" y="267.5">Counter: &quot;Electricity 2&quot; (Week:26, 2019)</text>
</g>
<g id="p6">
<clipPath id="c6"><rect x="33.5" y="394.1" width="239.4" height="90.7"/></clipPath>
<g clip-path="url(#c6)">
<polyline class="ln" stroke="#2a84d2" points="44.1,444.59 53.56,457.45 63.02,454.57 72.48,451.88 81.94,453.8 91.4,453.8 100.86,452.84 110.32,418.67 119.78,427.88 129.24,398.51 138.7,415.98 148.16,465.71 157.62,469.93 167.08,477.61 176.54,450.92 186,444.59 195.46,457.45 204.92,451.88 214.38,438.06 223.84,431.72 233.3,418.67 242.76,423.66 252.22,419.82 261.68,425.58"/>
<polyline class="ln" stroke="#ff7f0e" points="44.1,447.28 53.56,455.53 63.02,449.96 72.48,453.8 81.94,454.57 91.4,451.88 100.86,451.88 110.32,416.56 119.78,420.59 129.24,405.8 138.7,411.37 148.16,469.36 157.62,467.44 167.08,473 176.54,449.2 186,442.67 195.46,461.1 204.92,446.32 214.38,430.76 223.84,432.49 233.3,426.16 242.76,421.74 252.22,425.58 261.68,423.66"/>
<polyline class="ln" stroke="#30b03c" points="44.1,445.36 53.56,459.18 63.02,452.84 72.48,452.84 81.94,455.53 91.4,455.53 100.86,453.8 110.32,417.9 119.78,424.24 129.24,402.16 138.7,413.29 148.16,468.01 157.62,468.4 167.08,475.88 176.54,451.88 186,446.32 195.46,459.18 204.92,449.96 214.38,439.02 223.84,429.8 233.3,419.63 242.76,421.74 252.22,423.66 261.68,427.5"/>
<polyline class="ln" stroke="#e42c2c" points="44.1,446.32 53.56,457.45 63.02,451.88 72.48,458.22 81.94,456.49 91.4,455.53 100.86,455.53 110.32,421.55 119.78,430.38 129.24,407.34 138.7,425.2 148.16,466.67 157.62,471.28 167.08,480.88 176.54,450.92 186,445.36 195.46,452.84 204.92,444.59 214.38,436.14 223.84,440.56 233.3,425.2 242.76,427.5 252.22,431.34 261.68,429.42"/>
<polyline class="ln" stroke="#9c66d4" points="44.1,448.24 53.56,465.32 63.02,454.57 72.48,455.53 81.94,459.18 91.4,461.48 100.86,457.84 110.32,416.94 119.78,427.12 129.24,400.43 138.7,415.02 148.16,464.36 157.62,468.78 167.08,470.32 176.54,447.28 186,443.63 195.46,455.53 204.92,447.28 214.38,441.71 223.84,427.12 233.3,418.67 242.76,421.74 252.22,421.74 261.68,425.58"/>
<polyline class="ln" stroke="#94584c" points="44.1,451.88 53.56,456.49 63.02,452.84 72.48,459.18 81.94,456.49 91.4,456.49 100.86,456.49 110.32,420.59 119.78,421.55 129.24,414.06 138.7,417.9 148.16,468.78 157.62,466.67 167.08,473.96 176.54,444.59 186,440.56 195.46,449.96 204.92,442.67 214.38,432.49 223.84,428.08 233.3,419.63 242.76,423.66 252.22,425.58 261.68,421.74"/>
<polyline class="ln" stroke="#f06ccb" points="44.1,449.2 53.56,451.88 63.02,448.24 72.48,456.49 81.94,452.84 91.4,452.84 100.86,454.57 110.32,415.4 119.78,419.63 129.24,403.12 138.7,416.94 148.16,463.79 157.62,465.71 167.08,471.28 176.54,448.24 186,441.32 195.46,451.88 204.92,448.24 214.38,437.1 223.84,428.84 233.3,420.59 242.76,423.66 252.22,427.5 261.68,425.58"/>
</g>
<rect x="233.6" y="395.8" width="37.2" height="64.4" rx="1" fill="#fff" fill-opacity="0.86" stroke="#ccc" stroke-opacity="0.5" stroke-width="0.4"/>
<line x1="236.4" y1="401.9" x2="248.26" y2="401.9" stroke="#2a84d2" stroke-width="0.8"/><text class="g" style="font-size:5.93px" x="253" y="404.03">Mon.</text>
<line x1="236.4" y1="410.68" x2="248.26" y2="410.68" stroke="#ff7f0e" stroke-width="0.8"/><text class="g" style="font-size:5.93px" x="253" y="412.81">Tue.</text>
<line x1="236.4" y1="419.46" x2="248.26" y2="419.46" stroke="#30b03c" stroke-width="0.8"/><text class="g" style="font-size:5.93px" x="253" y="421.59">Wed.</text>
<line x1="236.4" y1="428.24" x2="248.26" y2="428.24" stroke="#e42c2c" stroke-width="0.8"/><text class="g" style="font-size:5.93px" x="253" y="430.37">Thu.</text>
<line x1="236.4" y1="437.02" x2="248.26" y2="437.02" stroke="#9c66d4" stroke-width="0.8"/><text class="g" style="font-size:5.93px" x="253" y="439.15">Fri.</text>
<line x1="236.4" y1="445.8" x2="248.26" y2="445.8" stroke="#94584c" stroke-width="0.8"/><text class="g" style="font-size:5.93px" x="253" y="447.93">Sat.</text>
<line x1="236.4" y1="454.58" x2="248.26" y2="454.58" stroke="#f06ccb" stroke-width="0.8"/><text class="g" style="font-size:5.93px" x="253" y="456.71">Sun.</text>
<rect class="ax" x="33.5" y="394.1" width="239.4" height="90.7"/>
<text class="k" style="font-size:7.59px" text-anchor="end" x="31.75" y="488.02">0</text>
<text class="k" style="font-size:7.59px" text-anchor="end" x="31.75" y="468.82">10</text>
<text class="k" style="font-size:7.59px" text-anchor="end" x="31.75" y="449.62">20</text>
<text class="k" style="font-size:7.59px" text-anchor="end" x="31.75" y="430.42">30</text>
<text class="k" style="font-size:7.59px" text-anchor="end" x="31.75" y="411.22">40</text>
<text class="k" style="font-size:7.59px" text-anchor="middle" x="44.1" y="492.54">0</text>
<text class="k" style="font-size:7.59px" text-anchor="middle" x="91.4" y="492.54">5</text>
<text class="k" style="font-size:7.59px" text-anchor="middle" x="138.7" y="492.54">10</text>
<text class="k" style="font-size:7.59px" text-anchor="middle" x="186" y="492.54">15</text>
<text class="k" style="font-size:7.59px" text-anchor="middle" x="233.3" y="492.54">20</text>
<text class="l" style="font-size:9.55px" x="153.2" y="502.09">Hour</text>
<text class="l" style="font-size:9.55px" transform="translate(18,439.45) rotate(-90)">Gas [m<tspan dy="-3.40" style="font-size:6.65px">3</tspan><tspan dy="3.40">]</tspan></text>
<text class="t" style="font-size:9.57px" x="153.2" y="391.6">Meter: &quot;Gas&quot; (Week:2, 2019)</text>
</g>
<g id="p7">
<clipPath id="c7"><rect x="308.7" y="397.2" width="233.9" height="87.7"/></clipPath>
<g clip-path="url(#c7)">
<polyline class="ln" stroke="#2a84d2" points="319.3,459.32 328.55,463.76 337.79,463.76 347.04,468.2 356.28,468.2 365.52,472.64 374.77,472.64 384.01,477.08 393.26,472.64 402.5,468.2 411.75,468.2 421,454.88 430.24,459.32 439.49,463.76 448.73,468.2 457.98,463.76 467.22,463.76 476.47,468.2 485.71,463.76 494.95,450.44 504.2,421.58 513.44,410.48 522.69,428.24 531.93,450.44"/>
<polyline class="ln" stroke="#ff7f0e" points="319.3,459.32 328.55,454.88 337.79,468.2 347.04,468.2 356.28,468.2 365.52,472.64 374.77,472.64 384.01,481.52 393.26,468.2 402.5,472.64 411.75,450.44 421,463.76 430.24,454.88 439.49,472.64 448.73,468.2 457.98,459.32 467.22,459.32 476.47,463.76 485.71,463.76 494.95,450.44 504.2,437.12 513.44,401.6 522.69,437.12 531.93,454.88"/>
<polyline class="ln" stroke="#30b03c" points="319.3,472.64 328.55,459.32 337.79,463.76 347.04,468.2 356.28,472.64 365.52,468.2 374.77,472.64 384.01,472.64 393.26,472.64 402.5,472.64 411.75,437.12 421,472.64 430.24,463.76 439.49,468.2 448.73,465.98 457.98,468.2 467.22,463.76 476.47,459.32 485.71,463.76 494.95,459.32 504.2,419.36 513.44,410.48 522.69,432.68 531.93,450.44"/>
<polyline class="ln" stroke="#e42c2c" points="319.3,459.32 328.55,459.32 337.79,472.64 347.04,463.76 356.28,470.42 365.52,472.64 374.77,468.2 384.01,472.64 393.26,468.2 402.5,472.64 411.75,459.32 421,468.2 430.24,468.2 439.49,459.32 448.73,463.76 457.98,459.32 467.22,463.76 476.47,463.76 485.71,463.76 494.95,446 504.2,423.8 513.44,414.92 522.69,432.68 531.93,446"/>
<polyline class="ln" stroke="#9c66d4" points="319.3,459.32 328.55,459.32 337.79,463.76 347.04,468.2 356.28,472.64 365.52,477.08 374.77,472.64 384.01,468.2 393.26,472.64 402.5,472.64 411.75,459.32 421,463.76 430.24,463.76 439.49,463.76 448.73,463.76 457.98,463.76 467.22,463.76 476.47,459.32 485.71,459.32 494.95,432.68 504.2,432.68 513.44,414.92 522.69,428.24 531.93,450.44"/>
<polyline class="ln" stroke="#94584c" points="319.3,454.88 328.55,463.76 337.79,465.98 347.04,468.2 356.28,468.2 365.52,472.64 374.77,470.42 384.01,472.64 393.26,468.2 402.5,472.64 411.75,459.32 421,463.76 430.24,459.32 439.49,463.76 448.73,454.88 457.98,463.76 467.22,459.32 476.47,459.32 485.71,454.88 494.95,432.68 504.2,419.36 513.44,410.48 522.69,428.24 531.93,446"/>
<polyline class="ln" stroke="#f06ccb" points="319.3,459.32 328.55,459.32 337.79,463.76 347.04,472.64 356.28,472.64 365.52,472.64 374.77,468.2 384.01,470.42 393.26,468.2 402.5,468.2 411.75,459.32 421,459.32 430.24,459.32 439.49,459.32 448.73,459.32 457.98,463.76 467.22,461.54 476.47,463.76 485.71,459.32 494.95,441.56 504.2,428.24 513.44,406.04 522.69,423.8 531.93,450.44"/>
</g>
<rect x="504.5" y="399" width="36" height="62.4" rx="1" fill="#fff" fill-opacity="0.86" stroke="#ccc" stroke-opacity="0.5" stroke-width="0.4"/>
<line x1="507.3" y1="404.7" x2="518.81" y2="404.7" stroke="#2a84d2" stroke-width="0.8"/><text class="g" style="font-size:5.75px" x="523.41" y="406.77">Mon.</text>
<line x1="507.3" y1="413.2" x2="518.81" y2="413.2" stroke="#ff7f0e" stroke-width="0.8"/><text class="g" style="font-size:5.75px" x="523.41" y="415.27">Tue.</text>
<line x1="507.3" y1="421.7" x2="518.81" y2="421.7" stroke="#30b03c" stroke-width="0.8"/><text class="g" style="font-size:5.75px" x="523.41" y="423.77">Wed.</text>
<line x1="507.3" y1="430.2" x2="518.81" y2="430.2" stroke="#e42c2c" stroke-width="0.8"/><text class="g" style="font-size:5.75px" x="523.41" y="432.27">Thu.</text>
<line x1="507.3" y1="438.7" x2="518.81" y2="438.7" stroke="#9c66d4" stroke-width="0.8"/><text class="g" style="font-size:5.75px" x="523.41" y="440.77">Fri.</text>
<line x1="507.3" y1="447.2" x2="518.81" y2="447.2" stroke="#94584c" stroke-width="0.8"/><text class="g" style="font-size:5.75px" x="523.41" y="449.27">Sat.</text>
<line x1="507.3" y1="455.7" x2="518.81" y2="455.7" stroke="#f06ccb" stroke-width="0.8"/><text class="g" style="font-size:5.75px" x="523.41" y="457.77">Sun.</text>
<rect class="ax" x="308.7" y="397.2" width="233.9" height="87.7"/>
<text class="k" style="font-size:7.36px" text-anchor="end" x="306.95" y="482.14">2.5</text>
<text class="k" style="font-size:7.36px" text-anchor="end" x="306.95" y="471.04">5.0</text>
<text class="k" style="font-size:7.36px" text-anchor="end" x="306.95" y="459.94">7.5</text>
<text class="k" style="font-size:7.36px" text-anchor="end" x="306.95" y="448.84">10.0</text>
<text class="k" style="font-size:7.36px" text-anchor="end" x="306.95" y="437.74">12.5</text>
<text class="k" style="font-size:7.36px" text-anchor="end" x="306.95" y="426.64">15.0</text>
<text class="k" style="font-size:7.36px" text-anchor="end" x="306.95" y="415.54">17.5</text>
<text class="k" style="font-size:7.36px" text-anchor="end" x="306.95" y="404.44">20.0</text>
<text class="k" style="font-size:7.36px" text-anchor="middle" x="319.3" y="492.41">0</text>
<text class="k" style="font-size:7.36px" text-anchor="middle" x="365.52" y="492.41">5</text>
<text class="k" style="font-size:7.36px" text-anchor="middle" x="411.75" y="492.41">10</text>
<text class="k" style="font-size:7.36px" text-anchor="middle" x="457.98" y="492.41">15</text>
<text class="k" style="font-size:7.36px" text-anchor="middle" x="504.2" y="492.41">20</text>
<text class="l" style="font-size:9.26px" x="425.65" y="501.67">Hour</text>
<text class="l" style="font-size:9.26px" transform="translate(288.2,441.05) rotate(-90)">Gas [m<tspan dy="-3.31" style="font-size:6.48px">3</tspan><tspan dy="3.31">]</tspan></text>
<text class="t" style="font-size:9.28px" x="425.65" y="394.8">Meter: &quot;Gas&quot; (Week:35, 2020)</text>
</g>
</svg>
</body></html>
